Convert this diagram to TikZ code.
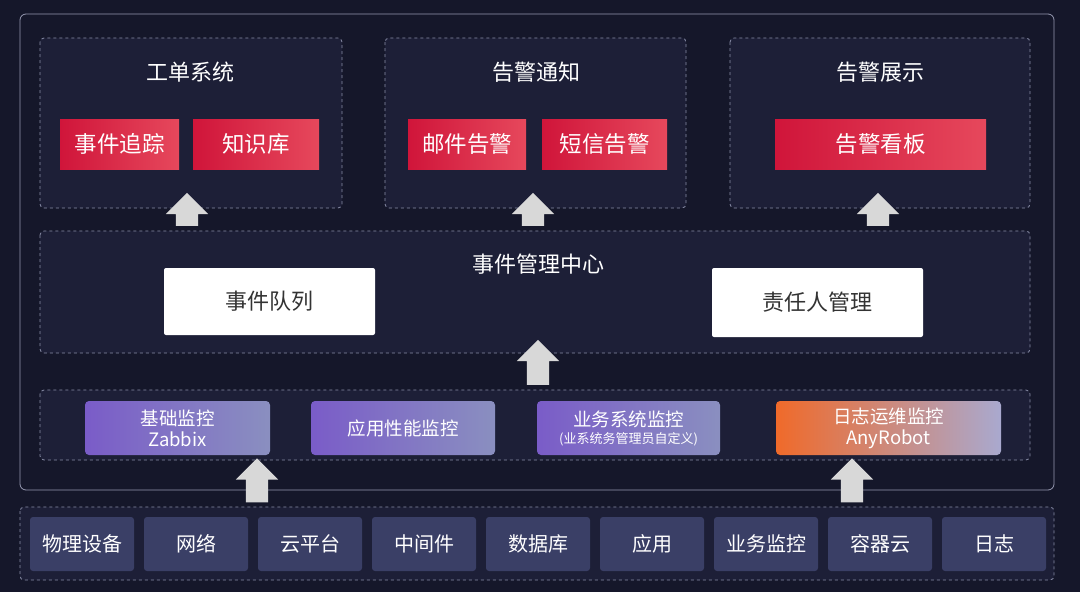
\documentclass[tikz,border=0pt]{standalone}
\usepackage{fontspec}
\setmainfont{Noto Sans CJK SC}
\usetikzlibrary{shapes.arrows}
\definecolor{bg}{HTML}{15172A}
\definecolor{panel}{HTML}{1D1F37}
\definecolor{dash}{HTML}{8A8EA8}
\definecolor{redA}{HTML}{D0153A}
\definecolor{redB}{HTML}{E6485C}
\definecolor{purA}{HTML}{7A5CC8}
\definecolor{purB}{HTML}{8A8FC0}
\definecolor{orA}{HTML}{F06A2A}
\definecolor{orB}{HTML}{A9A9CF}
\definecolor{cell}{HTML}{3A3F66}
\definecolor{arr}{HTML}{D8D8D8}
\begin{document}
\begin{tikzpicture}[x=1pt,y=-1pt,
  panelbox/.style={draw=dash,dashed,fill=panel,rounded corners=4pt,line width=0.8pt},
  ttl/.style={text=white,font=\fontsize{22}{24}\selectfont},
  redbox/.style={left color=redA,right color=redB},
  rtxt/.style={text=white,font=\fontsize{22.5}{24}\selectfont},
  whitebox/.style={fill=white,rounded corners=2pt},
  wtxt/.style={text=black!80,font=\fontsize{22}{24}\selectfont},
  monbox/.style={rounded corners=4pt,left color=purA,right color=purB},
  mtxt/.style={text=white,align=center,font=\fontsize{18.5}{21}\selectfont},
  cellbox/.style={fill=cell,rounded corners=3pt},
  ctxt/.style={text=white,font=\fontsize{20}{22}\selectfont},
  uparrow/.style={single arrow,shape border rotate=90,fill=arr,draw=none,minimum width=42pt,single arrow head extend=10pt,single arrow tip angle=90,inner sep=0pt,text width=22pt}]
\fill[bg] (0,0) rectangle (1080,592);
\draw[dash!90,rounded corners=6pt,line width=0.8pt] (20,14) rectangle (1054,490);
% top panels
\draw[panelbox] (40,38) rectangle (342,208);
\draw[panelbox] (385,38) rectangle (686,208);
\draw[panelbox] (730,38) rectangle (1030,208);
\node[ttl] (t1) at (190,72) {工单系统};
\node[ttl] (t2) at (536,72) {告警通知};
\node[ttl] (t3) at (880,72) {告警展示};
\path[redbox] (60,119) rectangle (179,169);
\node[rtxt] (r1) at (119.5,144) {事件追踪};
\path[redbox] (193,119) rectangle (319,169);
\node[rtxt] (r2) at (256,144) {知识库};
\path[redbox] (408,119) rectangle (526,169);
\node[rtxt] (r3) at (467,144) {邮件告警};
\path[redbox] (542,119) rectangle (667,169);
\node[rtxt] (r4) at (604.5,144) {短信告警};
\path[redbox] (775,119) rectangle (986,169);
\node[rtxt] (r5) at (880.5,144) {告警看板};
% middle
\draw[panelbox] (40,231) rectangle (1030,353);
\node[ttl] (t4) at (538,264) {事件管理中心};
\path[whitebox] (164,268) rectangle (375,335);
\node[wtxt] (w1) at (269.5,301.5) {事件队列};
\path[whitebox] (712,268) rectangle (923,337);
\node[wtxt] (w2) at (817.5,302.5) {责任人管理};
% monitoring
\draw[panelbox] (40,390) rectangle (1030,460);
\path[monbox] (85,401) rectangle (270,455);
\node[mtxt] (m1) at (177.5,428) {基础监控\\Zabbix};
\path[monbox] (311,401) rectangle (495,455);
\node[mtxt] (m2) at (403,428) {应用性能监控};
\path[monbox] (537,401) rectangle (720,455);
\node[mtxt,font=\fontsize{18.5}{19}\selectfont] (m3) at (628.5,428) {业务系统监控\\[-2pt]{\fontsize{13}{14}\selectfont (业系统务管理员自定义)}};
\path[rounded corners=4pt,left color=orA,right color=orB] (776,401) rectangle (1001,455);
\node[mtxt] (m4) at (888.5,428) {日志运维监控\\AnyRobot};
% bottom
\draw[panelbox] (20,507) rectangle (1054,580);
\foreach \i/\t in {0/物理设备,1/网络,2/云平台,3/中间件,4/数据库,5/应用,6/业务监控,7/容器云,8/日志}{
  \pgfmathsetmacro\xa{30+114*\i}
  \path[cellbox] (\xa,517) rectangle (\xa+104,571);
  \node[ctxt] (c\i) at (\xa+52,544) {\t};
}
% arrows
\node[uparrow,minimum height=33pt] (a1) at (187,215) {};
\node[uparrow,minimum height=33pt] (a2) at (533,215) {};
\node[uparrow,minimum height=33pt] (a3) at (878,215) {};
\node[uparrow,minimum height=45pt] (a4) at (538,368) {};
\node[uparrow,minimum height=44pt] (a5) at (257,486) {};
\node[uparrow,minimum height=44pt] (a6) at (852,486) {};
\end{tikzpicture}
\end{document}
